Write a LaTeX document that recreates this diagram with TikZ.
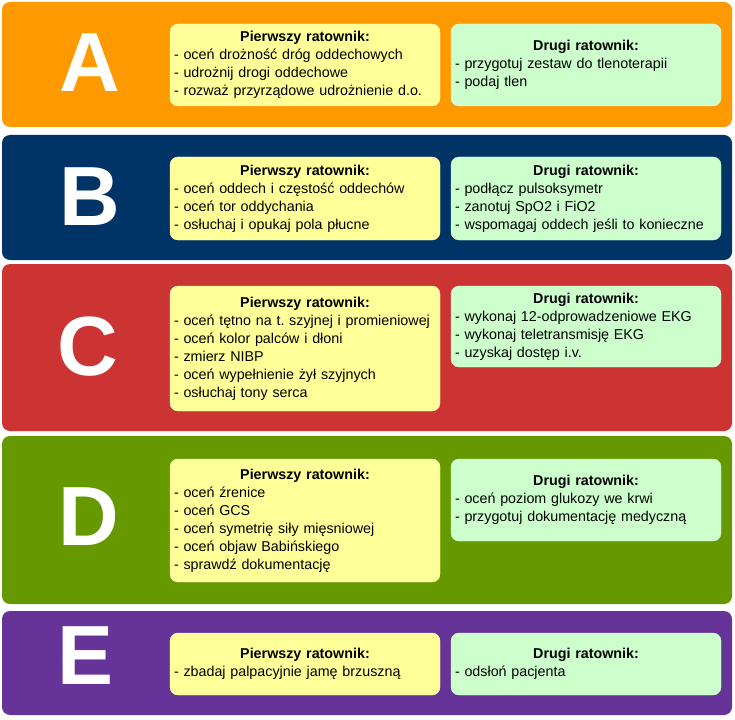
\documentclass[tikz,border=0pt]{standalone}
\usepackage{fontspec}
\setmainfont{Liberation Sans}
\frenchspacing
\definecolor{bandA}{HTML}{FF9900}
\definecolor{bandB}{HTML}{003366}
\definecolor{bandC}{HTML}{CC3333}
\definecolor{bandD}{HTML}{669900}
\definecolor{bandE}{HTML}{663399}
\definecolor{firstbg}{HTML}{FFFF99}
\definecolor{secondbg}{HTML}{CCFFCC}
\newcommand{\rolehead}[1]{{\centering\bfseries #1\par}}
\tikzset{
  band/.style = {shape=rectangle, rounded corners=8pt, minimum width=730pt,
    inner sep=0pt},
  letter/.style = {text=white, font=\fontsize{84}{84}\selectfont\bfseries,
    inner sep=0pt},
  rolebox/.style = {shape=rectangle, rounded corners=8pt, minimum width=270pt,
    text width=262pt, inner sep=4pt, align=left,
    font=\fontsize{14.3}{18}\selectfont},
  first/.style = {rolebox, fill=firstbg, draw=firstbg!70!white},
  second/.style = {rolebox, fill=secondbg, draw=secondbg!70!white}
}
\begin{document}
\begin{tikzpicture}[x=1pt, y=-1pt]
  \useasboundingbox (0,0) rectangle (735,719);
  % bands
  \node[band, fill=bandA, minimum height=125pt] (bandA) at (367,64.5) {};
  \node[band, fill=bandB, minimum height=125pt] (bandB) at (367,197.5) {};
  \node[band, fill=bandC, minimum height=167pt] (bandC) at (367,347.5) {};
  \node[band, fill=bandD, minimum height=168pt] (bandD) at (367,520) {};
  \node[band, fill=bandE, minimum height=104pt] (bandE) at (367,663) {};
  % letters
  \node[letter] (letA) at (90,63) {A};
  \node[letter] (letB) at (90,197) {B};
  \node[letter] (letC) at (88,347) {C};
  \node[letter] (letD) at (89,517) {D};
  \node[letter] (letE) at (86,656) {E};
  % A
  \node[first, minimum height=82pt] (firstA) at (305,65) {\rolehead{Pierwszy ratownik:}
    - oceń drożność dróg oddechowych\\
    - udrożnij drogi oddechowe\\
    - rozważ przyrządowe udrożnienie d.o.};
  \node[second, minimum height=82pt] (secondA) at (586,65) {\rolehead{Drugi ratownik:}
    - przygotuj zestaw do tlenoterapii\\
    - podaj tlen};
  % B
  \node[first, minimum height=83pt] (firstB) at (305,198.5) {\rolehead{Pierwszy ratownik:}
    - oceń oddech i częstość oddechów\\
    - oceń tor oddychania\\
    - osłuchaj i opukaj pola płucne};
  \node[second, minimum height=83pt] (secondB) at (586,198.5) {\rolehead{Drugi ratownik:}
    - podłącz pulsoksymetr\\
    - zanotuj SpO2 i FiO2\\
    - wspomagaj oddech jeśli to konieczne};
  % C
  \node[first, minimum height=125pt] (firstC) at (305,348.5) {\rolehead{Pierwszy ratownik:}
    - oceń tętno na t. szyjnej i promieniowej\\
    - oceń kolor palców i dłoni\\
    - zmierz NIBP\\
    - oceń wypełnienie żył szyjnych\\
    - osłuchaj tony serca};
  \node[second, minimum height=81pt] (secondC) at (586,326.5) {\rolehead{Drugi ratownik:}
    - wykonaj 12-odprowadzeniowe EKG\\
    - wykonaj teletransmisję EKG\\
    - uzyskaj dostęp i.v.};
  % D
  \node[first, minimum height=123pt] (firstD) at (305,520.5) {\rolehead{Pierwszy ratownik:}
    - oceń źrenice\\
    - oceń GCS\\
    - oceń symetrię siły mięsniowej\\
    - oceń objaw Babińskiego\\
    - sprawdź dokumentację};
  \node[second, minimum height=82pt] (secondD) at (586,500) {\rolehead{Drugi ratownik:}
    - oceń poziom glukozy we krwi\\
    - przygotuj dokumentację medyczną};
  % E
  \node[first, minimum height=62pt] (firstE) at (305,664) {\rolehead{Pierwszy ratownik:}
    - zbadaj palpacyjnie jamę brzuszną};
  \node[second, minimum height=62pt] (secondE) at (586,664) {\rolehead{Drugi ratownik:}
    - odsłoń pacjenta};
\end{tikzpicture}
\end{document}
